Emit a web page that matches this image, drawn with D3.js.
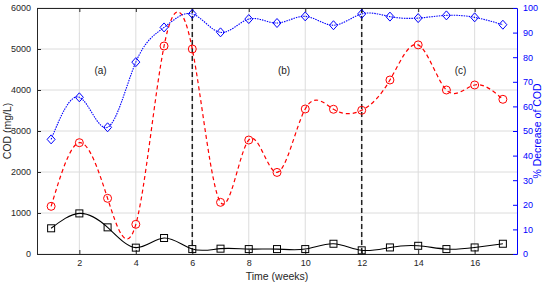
<!DOCTYPE html>
<html>
<head>
<meta charset="utf-8">
<script src="https://cdn.jsdelivr.net/npm/d3@7"></script>
<style>
  body { margin: 0; background: #fff; }
  svg { font-family: "Liberation Sans", Arial, sans-serif; }
</style>
</head>
<body>
<svg id="chart" width="550" height="285"></svg>
<script>
const weeks = [1, 2, 3, 4, 5, 6, 7, 8, 9, 10, 11, 12, 13, 14, 15, 16, 17]
const codEffluent = [627, 990, 650, 155, 390, 120, 130, 120, 120, 120, 250, 90, 160, 200, 120, 160, 250]
const codInfluent = [1163, 2715, 1358, 724, 5073, 5000, 1260, 2780, 1990, 3537, 3530, 3505, 4244, 5100, 4000, 4122, 3773]
const pctDecrease = [46.6, 63.7, 51.5, 78, 92.1, 97.6, 90.1, 95.5, 93.9, 96.6, 93, 97.6, 96.5, 95.9, 97, 96.2, 93.2]
const xTicks = [2, 4, 6, 8, 10, 12, 14, 16]
const leftTicks = [0, 1000, 2000, 3000, 4000, 5000, 6000]
const rightTicks = [0, 10, 20, 30, 40, 50, 60, 70, 80, 90, 100]
const phaseBreaks = [6, 12]
const phaseLabels = [
    { text: '(a)', x: 2.75, y: 4480 },
    { text: '(b)', x: 9.25, y: 4480 },
    { text: '(c)', x: 15.5, y: 4480 }
]

const svg = d3.select('#chart')
const margin = ({ top: 8, right: 33, bottom: 31, left: 37 })
const width = 550, height = 285

const x = d3.scaleLinear().domain([0.5, 17.5]).range([margin.left, width - margin.right])
const y = d3.scaleLinear().domain([0, 6000]).range([height - margin.bottom, margin.top])
const y2 = d3.scaleLinear().domain([0, 100]).range([height - margin.bottom, margin.top])

// grid
svg.append('g')
    .selectAll('line')
    .data(xTicks)
    .enter().append('line')
    .attr('x1', d => x(d)).attr('x2', d => x(d))
    .attr('y1', margin.top).attr('y2', height - margin.bottom)
    .attr('stroke', '#dcdcdc').attr('stroke-width', 1)
svg.append('g')
    .selectAll('line')
    .data(leftTicks)
    .enter().append('line')
    .attr('x1', margin.left).attr('x2', width - margin.right)
    .attr('y1', d => y(d)).attr('y2', d => y(d))
    .attr('stroke', '#dcdcdc').attr('stroke-width', 1)

// axes (ticks inward)
const fontSize = '9px'
const gx = svg.append('g')
    .attr('transform', `translate(0,${height - margin.bottom})`)
    .call(d3.axisBottom(x).tickValues(xTicks).tickSizeInner(-4).tickSizeOuter(0).tickPadding(6))
gx.selectAll('text').style('font-size', fontSize).attr('fill', '#262626')
const gxTop = svg.append('g')
    .attr('transform', `translate(0,${margin.top})`)
    .call(d3.axisTop(x).tickValues(xTicks).tickSizeInner(-4).tickSizeOuter(0).tickFormat(''))

const gy = svg.append('g')
    .attr('transform', `translate(${margin.left},0)`)
    .call(d3.axisLeft(y).tickValues(leftTicks).tickSizeInner(-4).tickSizeOuter(0).tickPadding(6).tickFormat(d3.format('d')))
gy.selectAll('text').style('font-size', fontSize).attr('fill', '#262626')

const gy2 = svg.append('g')
    .attr('transform', `translate(${width - margin.right},0)`)
    .call(d3.axisRight(y2).tickValues(rightTicks).tickSizeInner(-4).tickSizeOuter(0).tickPadding(6))
gy2.selectAll('text').style('font-size', fontSize).attr('fill', '#0000ff')
gy2.selectAll('line').attr('stroke', '#0000ff')
gy2.select('.domain').attr('stroke', '#0000ff')

;[gx, gxTop, gy].forEach(g => {
    g.select('.domain').attr('stroke', '#262626')
    g.selectAll('line').attr('stroke', '#262626')
})

// phase separators
svg.append('g')
    .selectAll('line')
    .data(phaseBreaks)
    .enter().append('line')
    .attr('x1', d => x(d)).attr('x2', d => x(d))
    .attr('y1', margin.top).attr('y2', height - margin.bottom)
    .attr('stroke', '#222').attr('stroke-width', 1.5)
    .attr('stroke-dasharray', '5,3')

// phase labels
svg.append('g')
    .selectAll('text')
    .data(phaseLabels)
    .enter().append('text')
    .attr('x', d => x(d.x)).attr('y', d => y(d.y))
    .attr('text-anchor', 'middle')
    .attr('dy', '.35em')
    .style('font-size', '10px')
    .attr('fill', '#222')
    .text(d => d.text)

const curve = d3.curveNatural

// black effluent line
svg.append('path')
    .datum(weeks.map((w, i) => [w, codEffluent[i]]))
    .attr('fill', 'none').attr('stroke', '#000').attr('stroke-width', 1.1)
    .attr('d', d3.line().x(d => x(d[0])).y(d => y(d[1])).curve(curve))
svg.append('g')
    .selectAll('rect')
    .data(weeks.map((w, i) => [w, codEffluent[i]]))
    .enter().append('rect')
    .attr('x', d => x(d[0]) - 3.5).attr('y', d => y(d[1]) - 3.5)
    .attr('width', 7).attr('height', 7)
    .attr('fill', 'none').attr('stroke', '#000').attr('stroke-width', 1)

// red influent line
svg.append('path')
    .datum(weeks.map((w, i) => [w, codInfluent[i]]))
    .attr('fill', 'none').attr('stroke', '#ff0000').attr('stroke-width', 1.2)
    .attr('stroke-dasharray', '4,3')
    .attr('d', d3.line().x(d => x(d[0])).y(d => y(d[1])).curve(curve))
svg.append('g')
    .selectAll('circle')
    .data(weeks.map((w, i) => [w, codInfluent[i]]))
    .enter().append('circle')
    .attr('cx', d => x(d[0])).attr('cy', d => y(d[1]))
    .attr('r', 4)
    .attr('fill', 'none').attr('stroke', '#ff0000').attr('stroke-width', 1)

// blue % decrease line
svg.append('path')
    .datum(weeks.map((w, i) => [w, pctDecrease[i]]))
    .attr('fill', 'none').attr('stroke', '#0000ff').attr('stroke-width', 1.1)
    .attr('stroke-dasharray', '1.5,1')
    .attr('d', d3.line().x(d => x(d[0])).y(d => y2(d[1])).curve(curve))
svg.append('g')
    .selectAll('path')
    .data(weeks.map((w, i) => [w, pctDecrease[i]]))
    .enter().append('path')
    .attr('transform', d => `translate(${x(d[0])},${y2(d[1])})`)
    .attr('d', 'M0,-4.5L4,0L0,4.5L-4,0Z')
    .attr('fill', 'none').attr('stroke', '#0000ff').attr('stroke-width', 1)

// axis titles
svg.append('text')
    .attr('x', (margin.left + width - margin.right) / 2).attr('y', height - 5)
    .attr('text-anchor', 'middle')
    .style('font-size', '10.5px').attr('fill', '#262626')
    .text('Time (weeks)')
svg.append('text')
    .attr('transform', `translate(11,${(margin.top + height - margin.bottom) / 2}) rotate(-90)`)
    .attr('text-anchor', 'middle')
    .style('font-size', '10.5px').attr('fill', '#262626')
    .text('COD (mg/L)')
svg.append('text')
    .attr('transform', `translate(541,${(margin.top + height - margin.bottom) / 2}) rotate(-90)`)
    .attr('text-anchor', 'middle')
    .style('font-size', '10.5px').attr('fill', '#0000ff')
    .text('% Decrease of COD')
</script>
</body>
</html>
